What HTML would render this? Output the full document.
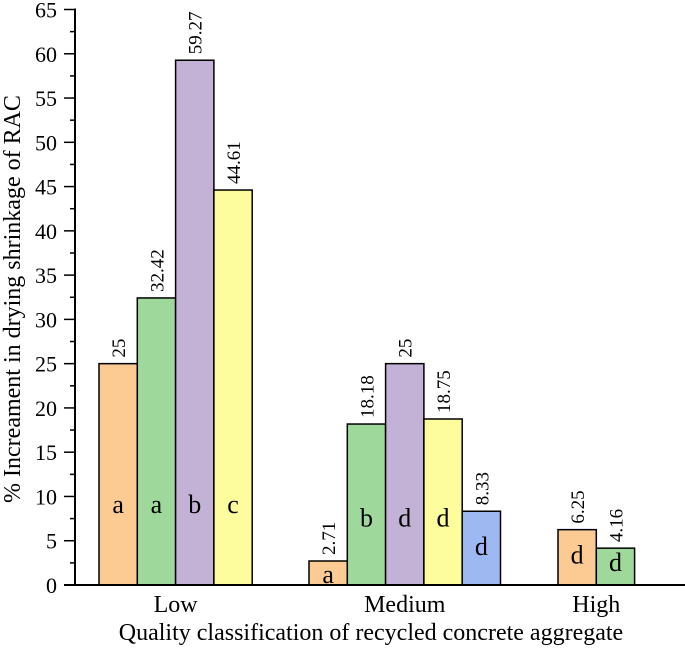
<!DOCTYPE html>
<html><head><meta charset="utf-8"><style>
body{margin:0;background:#fff}
svg text{font-family:"Liberation Serif",serif;fill:#000}
</style></head><body>
<svg id="c" width="685" height="647" xmlns="http://www.w3.org/2000/svg"></svg>
<script>
const groups=["Low","Medium","High"];
const values=[[25,32.42,59.27,44.61],[2.71,18.18,25,18.75,8.33],[6.25,4.16]];
const valueLabels=[["25","32.42","59.27","44.61"],["2.71","18.18","25","18.75","8.33"],["6.25","4.16"]];
const letters=[["a","a","b","c"],["a","b","d","d","d"],["d","d"]];
const letterY=[[8.9,8.9,8.9,8.9],[1.0,7.4,7.4,7.4,4.2],[3.2,2.4]];
const colorKeys=[[0,1,2,3],[0,1,2,3,4],[0,1]];
const yTicks=[0,5,10,15,20,25,30,35,40,45,50,55,60,65];
const palette=["#FBCB93","#9ED89A","#C4B2D6","#FDFD9E","#9EB9F2"];
const groupStart=[99,309,558], bw=38.3;
const svg=document.getElementById('c'),NS="http://www.w3.org/2000/svg";
const y0=585,yTop=9.5,yMax=65;
const Y=v=>y0-(y0-yTop)*v/yMax;
function mk(t,a,txt){const e=document.createElementNS(NS,t);for(const k in a)e.setAttribute(k,a[k]);if(txt!==undefined)e.textContent=txt;svg.appendChild(e);return e;}
groups.forEach((g,gi)=>{
 values[gi].forEach((v,i)=>{
  const x=groupStart[gi]+i*bw;
  const r=mk('rect',{x:x,y:Y(v),width:bw,height:y0-Y(v),fill:palette[colorKeys[gi][i]],stroke:'#000','stroke-width':1.5});
  
  
  const cx=x+bw/2+7,ty=Y(v)-6;
  const t=mk('text',{x:cx,y:ty,'font-size':19,transform:`rotate(-90 ${cx} ${ty})`},valueLabels[gi][i]);
  
  
  const l=mk('text',{x:x+bw/2,y:Y(letterY[gi][i])+7,'font-size':26,'text-anchor':'middle'},letters[gi][i]);
  
  
 });
 const n=values[gi].length;
 const c=mk('text',{x:groupStart[gi]+n*bw/2,y:612,'font-size':24,'text-anchor':'middle'},g);
 
 
});
const ax=mk('line',{x1:75,y1:y0+1,x2:75,y2:yTop-1,stroke:'#000','stroke-width':2});


const xa=mk('line',{x1:64,y1:y0,x2:685,y2:y0,stroke:'#000','stroke-width':2});


yTicks.forEach((v,i)=>{
 mk('line',{x1:64,y1:Y(v),x2:75,y2:Y(v),stroke:'#000','stroke-width':1.5});
 if(i<yTicks.length-1)mk('line',{x1:70,y1:Y(v+2.5),x2:75,y2:Y(v+2.5),stroke:'#000','stroke-width':1.5});
 const t=mk('text',{x:57,y:Y(v)+8,'font-size':22,'text-anchor':'end'},String(v));
 
 
});
const yt=mk('text',{x:20,y:299,'font-size':24,'text-anchor':'middle',transform:'rotate(-90 20 299)'},'% Increament in drying shrinkage of RAC');


const xt=mk('text',{x:371,y:640,'font-size':24,'text-anchor':'middle'},'Quality classification of recycled concrete aggregate');


</script>
</body></html>
